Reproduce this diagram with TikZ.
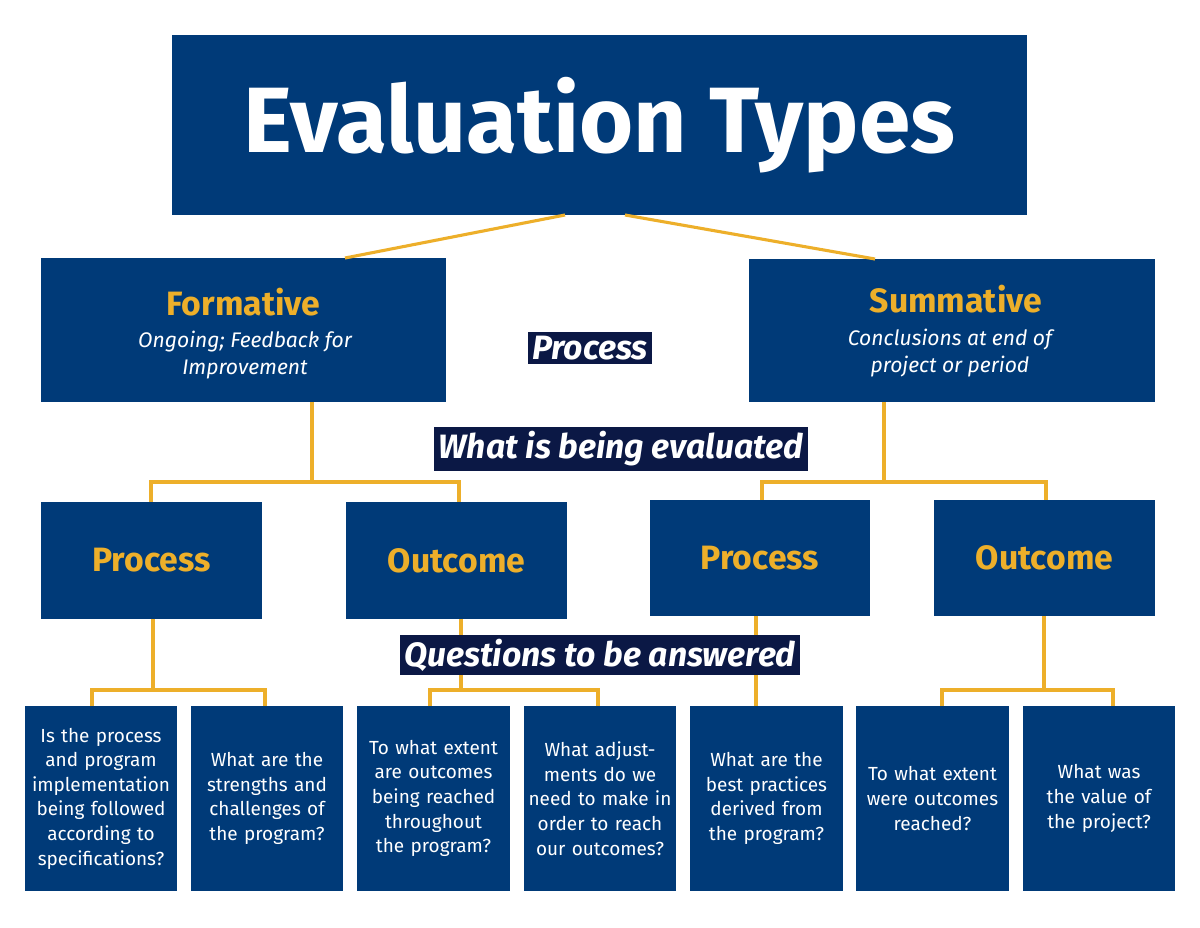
\documentclass[tikz,border=0pt]{standalone}
\usepackage{fontspec}
\setmainfont{Fira Sans}
\usetikzlibrary{positioning}
\definecolor{boxblue}{HTML}{003A78}
\definecolor{navy}{HTML}{0B1845}
\definecolor{gold}{HTML}{EDAF2A}
\tikzset{
  box/.style={fill=boxblue,inner sep=0pt,align=center},
  tag/.style={fill=navy,text=white,inner sep=3pt,font=\fontsize{24}{28}\selectfont\bfseries\itshape},
  head/.style={box,text=gold,font=\fontsize{24}{28}\selectfont\bfseries},
  ask/.style={box,text=white,minimum width=3.8cm,minimum height=4.625cm,text width=3.6cm,font=\fontsize{13.5}{17.5}\selectfont},
  link/.style={gold,line width=2.2pt}
}
\begin{document}
\begin{tikzpicture}[x=0.025cm,y=-0.025cm]
  \useasboundingbox (0,0) rectangle (1200,927);

  \node[box,text=white,minimum width=21.375cm,minimum height=4.5cm,font=\fontsize{66}{70}\selectfont\bfseries] (top) at (599.5,125) {Evaluation Types};

  \node[head,minimum width=10.125cm,minimum height=3.6cm] (form) at (243.5,330) {};
  \node[head] at (243.5,302) {Formative};
  \node[text=white,align=center,font=\fontsize{15}{19.5}\selectfont\itshape] at (245,355) {Ongoing; Feedback for\\Improvement};
  \node[head,minimum width=10.15cm,minimum height=3.575cm] (summ) at (952,330.5) {};
  \node[head] at (956,299) {Summative};
  \node[text=white,align=center,font=\fontsize{15}{19.5}\selectfont\itshape] at (950,353) {Conclusions at end of\\project or period};

  \node[tag] (lproc) at (590,348) {Process};
  \node[tag] (leval) at (621,449) {What is being evaluated};
  \node[tag] (lquest) at (600,655) {Questions to be answered};

  \node[head,minimum width=5.525cm,minimum height=2.925cm] (fproc) at (151.5,560.5) {Process};
  \node[head,minimum width=5.525cm,minimum height=2.925cm] (fout) at (456.5,560.5) {Outcome};
  \node[head,minimum width=5.5cm,minimum height=2.9cm] (sproc) at (760,558) {Process};
  \node[head,minimum width=5.525cm,minimum height=2.9cm] (sout) at (1044.5,558) {Outcome};

  \node[ask] (q1) at (101,798.5) {Is the process and program implementation being followed according to specifications?};
  \node[ask] (q2) at (267,798.5) {What are the strengths and challenges of the program?};
  \node[ask] (q3) at (433.5,798.5) {To what extent are outcomes being reached throughout the program?};
  \node[ask] (q4) at (600,798.5) {What adjustments do we need to make in order to reach our outcomes?};
  \node[ask] (q5) at (766.5,798.5) {What are the best practices derived from the program?};
  \node[ask] (q6) at (932.5,798.5) {To what extent were outcomes reached?};
  \node[ask] (q7) at (1099,798.5) {What was the value of the project?};

  % connectors
  \coordinate (j1) at (312,482);
  \coordinate (j2) at (884,482);
  \coordinate (j3) at (153,690);
  \coordinate (j4) at (461,690);
  \coordinate (j6) at (1044,690);
  \draw[link] (565,215) -- (345,258);
  \draw[link] (625,215) -- (875,259);
  \draw[link] (312,402) -- (j1);
  \draw[link] (151,502) |- (j1) -| (459,502);
  \draw[link] (884,402) -- (j2);
  \draw[link] (762,500) |- (j2) -| (1046,500);
  \draw[link] (153,619) -- (j3);
  \draw[link] (92,706) |- (j3) -| (265,706);
  \draw[link] (461,619) -- (j4);
  \draw[link] (430,706) |- (j4) -| (598,706);
  \draw[link] (756,616) -- (756,706);
  \draw[link] (1044,616) -- (j6);
  \draw[link] (942,706) |- (j6) -| (1113,706);
  % labels on top of the lines
  \node[tag] at (lproc) {Process};
  \node[tag] at (leval) {What is being evaluated};
  \node[tag] at (lquest) {Questions to be answered};
\end{tikzpicture}
\end{document}
